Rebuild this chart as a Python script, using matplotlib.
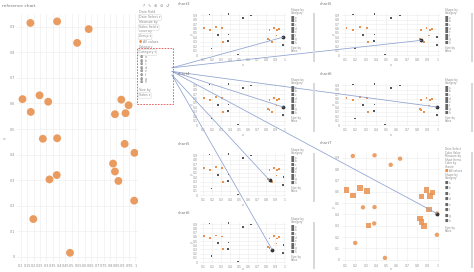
import numpy as np
import matplotlib
matplotlib.use("Agg")
import matplotlib.pyplot as plt
from matplotlib.patches import Rectangle, ConnectionPatch

# ---- data
ref_x = [0.175, 0.385, 0.633, 0.542, 0.113, 0.178, 0.247, 0.315, 0.839, 0.889, 0.946, 0.922,
         0.273, 0.385, 0.325, 0.382, 0.198, 0.486, 0.915, 0.992, 0.824, 0.839, 0.866, 0.990]
ref_y = [0.915, 0.921, 0.891, 0.837, 0.617, 0.567, 0.632, 0.607, 0.558, 0.615, 0.593, 0.562,
         0.462, 0.464, 0.303, 0.320, 0.148, 0.016, 0.442, 0.407, 0.365, 0.334, 0.297, 0.220]
# 1 = drawn orange in the small charts, 0 = dark
ref_hl = [0, 0, 0, 0, 1, 1, 1, 1, 1, 1, 1, 1,
          0, 0, 1, 0, 0, 0, 1, 0, 1, 1, 1, 0]
categories = ["a", "b", "c", "d", "e", "f", "g", "h"]
ref_ticks_x = [0.1, 0.15, 0.2, 0.25, 0.3, 0.35, 0.4, 0.45, 0.5, 0.55, 0.6, 0.65, 0.7,
               0.75, 0.8, 0.85, 0.9, 0.95, 1]
small_ticks_x = [0.1, 0.2, 0.3, 0.4, 0.5, 0.6, 0.7, 0.8, 0.9, 1]
ticks_y = [0, 0.1, 0.2, 0.3, 0.4, 0.5, 0.6, 0.7, 0.8, 0.9]
# chart name, which point the connector ends on, which legend row it starts from
chart_names = ["chart3", "chart4", "chart5", "chart6", "chart5", "chart6", "chart7"]
link_point = [19, 19, 21, 22, 21, 19, 19]
link_row = [3, 4, 5, 5, 3, 4, 4]

W, H = 474, 272
ORANGE = "#e8914f"
GRID = "#ececec"
TXT = "#8c8c8c"
fig = plt.figure(figsize=(W / 100, H / 100), dpi=100)
fig.patch.set_facecolor("white")


def box(x0, y0, x1, y1):
    return [x0 / W, 1 - y1 / H, (x1 - x0) / W, (y1 - y0) / H]


def ftext(x, y, s, size=2.6, **kw):
    return fig.text(x / W, 1 - y / H, s, fontsize=size, color=kw.pop("color", TXT),
                    va=kw.pop("va", "center"), **kw)


def style(ax, xt, size, xfmt):
    ax.set_xlim(0.07, 1.02)
    ax.set_ylim(-0.02, 0.95)
    ax.set_xticks(xt)
    ax.set_xticklabels([xfmt(v) for v in xt])
    ax.set_yticks(ticks_y)
    ax.set_yticklabels([("%g" % v) for v in ticks_y])
    ax.grid(True, color=GRID, lw=0.4)
    ax.set_axisbelow(True)
    for s in ax.spines.values():
        s.set_visible(False)
    ax.tick_params(length=0, labelsize=size, colors=TXT, pad=1.5)


# ---- reference chart
ax0 = fig.add_axes(box(17, 14, 138, 262))
style(ax0, ref_ticks_x, 2.4, lambda v: "%g" % v)
ax0.scatter(ref_x, ref_y, s=32, color=ORANGE, alpha=0.9, edgecolors="none")
ftext(2, 6, "reference chart", 3.2, color="#777777")
ftext(3, 138, "y", 2.6, rotation=90)

# ---- control panel
ftext(142, 6, "\u2197  \u270e  \u2295  \u2296  \u21ba", 3, color="#999999")
panel = [(12, "Date Field"), (22, "Measure by"), (31, "Color by"), (47, "Category"), (90, "Size by")]
for y, s in panel:
    ftext(139, y, s, 2.3)
for y, s in [(17, "Date Select \u25be"), (27, "Sales field \u25be"), (36, "Group \u25be"),
             (52, "Category \u25be"), (95, "Sales \u25be")]:
    ftext(139, y + 0.5, s, 2.3, bbox=dict(boxstyle="round,pad=0.25", fc="white", ec="#cccccc", lw=0.3))
ftext(139, 42, "\u25cf", 2.6, color=ORANGE)
ftext(143, 42, "All values", 2.3)
row_y = [57 + 3.6 * i for i in range(len(categories))]
for y, c in zip(row_y, categories):
    ftext(140, y, "\u2295", 3.0, color="#555555")
    ftext(145, y, c, 2.3)
fig.patches.append(Rectangle((137 / W, 1 - 104 / H), 36 / W, 56 / H, transform=fig.transFigure,
                             fill=False, ec="#e05050", lw=0.6, ls=(0, (2, 1.5))))

# ---- small charts
left_boxes = [(200, 13, 286, 56), (200, 83, 286, 126), (200, 153, 286, 196), (200, 222, 286, 263)]
right_boxes = [(342, 13, 440, 56), (342, 83, 440, 126), (342, 152, 440, 262)]
small_axes = []
for i, b in enumerate(left_boxes + right_boxes):
    x0, y0, x1, y1 = b
    ax = fig.add_axes(box(*b))
    big = (y1 - y0) > 80
    style(ax, small_ticks_x, 2.2, lambda v: "%g" % v)
    cols = [ORANGE if h else "#555555" for h in ref_hl]
    if big:
        for xx, yy, h in zip(ref_x, ref_y, ref_hl):
            m = "s" if h else "o"
            ax.scatter(xx, yy, s=16 if m == "s" else 10, color=ORANGE, marker=m, alpha=0.85,
                       edgecolors="none")
    else:
        ax.scatter(ref_x, ref_y, s=1.6, color=cols, marker="s", edgecolors="none")
    ftext(x0 - 22, y0 - 9, chart_names[i], 2.8, color="#777777")
    ftext(x0 - 10, (y0 + y1) / 2, "y", 2.3, rotation=90)
    ftext((x0 + x1) / 2, min(y1 + 9, 269), "x", 2.3, ha="center")
    # legend column
    lx = x1 + 5
    ly = y0 - 3
    if big:
        for s in ["Date Select", "Color Value", "Measure by", "Show Items", "Color by", "Unsure"]:
            ftext(lx, ly, s, 2.0)
            ly += 3.6
        ftext(lx, ly, "\u25a0", 2.6, color=ORANGE)
        ftext(lx + 4, ly, "All values", 2.0)
        ly += 4.5
    for s in ["Shape by", "Category"]:
        ftext(lx, ly, s, 2.0)
        ly += 3.4
    step = 5.5 if big else 3.6
    for c in categories:
        ftext(lx, ly + 1, "\u25a0", 2.6, color="#666666")
        ftext(lx + 4, ly + 1, c, 2.0)
        ly += step
    for s in ["Size by", "Sales"]:
        ftext(lx, ly + 2, s, 2.0)
        ly += 3.4
    sx = 313 if x1 < 300 else 471
    fig.patches.append(Rectangle((sx / W, 1 - (y1 + 6) / H), 1.6 / W, (y1 - y0 + 6) / H,
                                 transform=fig.transFigure, fc="#d9d9d9", ec="none"))
    small_axes.append(ax)

# ---- connectors from the legend rows to a point in each chart
for ax, p, r in zip(small_axes, link_point, link_row):
    con = ConnectionPatch(xyA=(172 / W, 1 - row_y[r] / H), coordsA="figure fraction",
                          xyB=(ref_x[p], ref_y[p]), coordsB=ax.transData,
                          color="#8ea2cf", lw=0.55)
    fig.add_artist(con)
    ax.scatter([ref_x[p]], [ref_y[p]], s=3, color="#333333", zorder=5)

fig.savefig("out.png", dpi=100)
